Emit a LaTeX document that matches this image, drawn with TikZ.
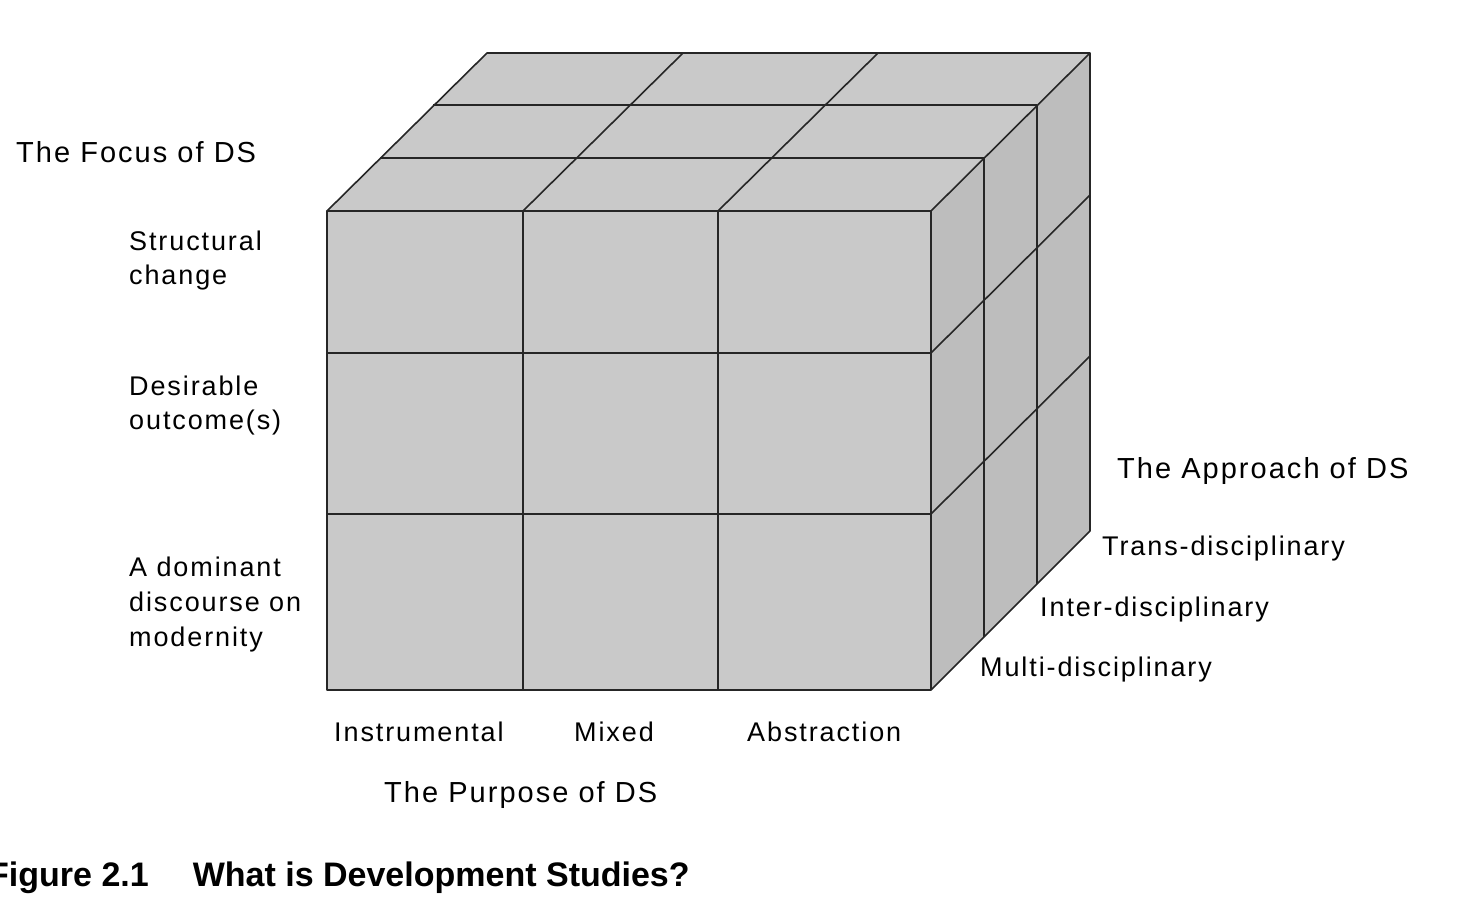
\documentclass[tikz,border=0pt]{standalone}
\usepackage{fontspec}
\setmainfont{Liberation Sans}
\newfontfamily\spaced[LetterSpace=7]{Liberation Sans}
\begin{document}
\begin{tikzpicture}[x=1pt,y=-1pt,
  lab/.style={anchor=base west,inner sep=0pt,font=\spaced\fontsize{27}{32}\selectfont},
  big/.style={anchor=base west,inner sep=0pt,font=\spaced\fontsize{29}{34}\selectfont},
  edge/.style={draw=black!85,line width=1.6pt,line join=round}]
\useasboundingbox (0,0) rectangle (1461,911);
% faces
\fill[gray!42] (327,211) rectangle (931,690);
\fill[gray!42] (327,211) -- (487,53) -- (1090,53) -- (931,211) -- cycle;
\fill[gray!52] (931,211) -- (1090,53) -- (1090,531) -- (931,690) -- cycle;
% front grid
\draw[edge] (327,211) rectangle (931,690);
\foreach \x in {523,718} \draw[edge] (\x,211) -- (\x,690);
\foreach \y in {353,514} \draw[edge] (327,\y) -- (931,\y);
% top grid
\draw[edge] (327,211) -- (487,53) -- (1090,53) -- (931,211);
\foreach \x in {523,718} \draw[edge] (\x,211) -- ++(160,-158);
\foreach \d in {53,106} \draw[edge] (327+\d,211-\d) -- (931+\d,211-\d);
% right grid
\draw[edge] (1090,53) -- (1090,531) -- (931,690);
\foreach \y in {353,514} \draw[edge] (931,\y) -- ++(159,-158);
\foreach \d in {53,106} \draw[edge] (931+\d,211-\d) -- (931+\d,690-\d);
% labels
\node[big] (focus) at (16,162) {The Focus of DS};
\node[lab] (s1) at (129,250) {Structural};
\node[lab] (s2) at (129,284) {change};
\node[lab] (d1) at (129,395) {Desirable};
\node[lab] (d2) at (129,429) {outcome(s)};
\node[lab] (a1) at (129,576) {A dominant};
\node[lab] (a2) at (129,611) {discourse on};
\node[lab] (a3) at (129,646) {modernity};
\node[big] (appr) at (1117,478) {The Approach of DS};
\node[lab] (tr) at (1102,555) {Trans-disciplinary};
\node[lab] (in) at (1040,616) {Inter-disciplinary};
\node[lab] (mu) at (980,676) {Multi-disciplinary};
\node[lab] (ins) at (334,741) {Instrumental};
\node[lab] (mix) at (574,741) {Mixed};
\node[lab] (abs) at (747,741) {Abstraction};
\node[big] (purp) at (384,802) {The Purpose of DS};
\node[anchor=base west,inner sep=0pt,font=\fontsize{34}{38}\selectfont\bfseries] (cap) at (-12,886) {Figure 2.1\hspace{44pt}What is Development Studies?};
\end{tikzpicture}
\end{document}
